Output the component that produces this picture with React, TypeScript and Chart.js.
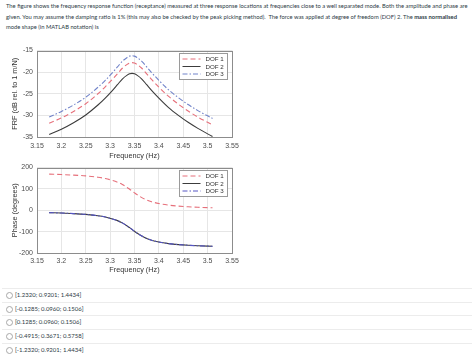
import React, { useEffect, useRef } from "react";
import { Chart, registerables } from "chart.js";

Chart.register(...registerables);

// ---------- data ----------
const questionLine1 =
  "The figure shows the frequency response function (receptance) measured at three response locations at frequencies close to a well separated mode. Both the amplitude and phase are";
const questionLine2 =
  "given. You may assume the damping ratio is 1% (this may also be checked by the peak picking method).  The force was applied at degree of freedom (DOF) 2. The ";
const questionLine2Bold = "mass normalised";
const questionLine3 = "mode shape (in MATLAB notation) is";

const answerOptions = [
  "[1.2320; 0.9201; 1.4434]",
  "[-0.1285; 0.0960; 0.1506]",
  "[0.1285; 0.0960; 0.1506]",
  "[-0.4915; 0.3671; 0.5758]",
  "[-1.2320; 0.9201; 1.4434]",
];

const seriesNames = ["DOF 1", "DOF 2", "DOF 3"];

const freq = [
  3.175, 3.2, 3.225, 3.25, 3.275, 3.29, 3.305, 3.315, 3.325, 3.335, 3.34, 3.345, 3.35,
  3.355, 3.365, 3.375, 3.385, 3.4, 3.42, 3.44, 3.46, 3.48, 3.51,
];

const magDof1 = [
  -31.8, -30.6, -29.1, -27.3, -25.0, -23.4, -21.6, -20.4, -19.1, -18.2, -17.9, -17.8, -17.9,
  -18.2, -19.1, -20.4, -21.7, -23.5, -25.6, -27.4, -29.0, -30.4, -32.2,
];
const magDof2 = [
  -34.4, -33.2, -31.7, -29.9, -27.6, -26.0, -24.2, -22.9, -21.6, -20.7, -20.4, -20.3, -20.4,
  -20.7, -21.6, -22.9, -24.2, -26.0, -28.2, -30.0, -31.6, -33.0, -34.9,
];
const magDof3 = [
  -30.4, -29.1, -27.6, -25.8, -23.5, -21.9, -20.1, -18.8, -17.5, -16.6, -16.3, -16.2, -16.3,
  -16.6, -17.5, -18.8, -20.1, -21.9, -24.1, -25.9, -27.5, -28.9, -30.7,
];

const phaseDof1 = [
  169, 167, 164.4, 160.6, 154.5, 148.5, 139.5, 131.5, 120.9, 106.6, 98.5, 90, 81.5,
  73.4, 59.1, 48.1, 39.9, 31.3, 24, 19.4, 16.2, 13.9, 11.5,
];
const phaseDof2 = [
  -11, -13, -15.6, -19.4, -25.5, -31.5, -40.5, -48.5, -59.1, -73.4, -81.5, -90, -98.5,
  -106.6, -120.9, -131.9, -140.1, -148.7, -156, -160.6, -163.8, -166.1, -168.5,
];
const phaseDof3 = [
  -11, -13, -15.6, -19.4, -25.5, -31.5, -40.5, -48.5, -59.1, -73.4, -81.5, -90, -98.5,
  -106.6, -120.9, -131.9, -140.1, -148.7, -156, -160.6, -163.8, -166.1, -168.5,
];

const xTicks = [3.15, 3.2, 3.25, 3.3, 3.35, 3.4, 3.45, 3.5, 3.55];
const xTickLabels = ["3.15", "3.2", "3.25", "3.3", "3.35", "3.4", "3.45", "3.5", "3.55"];
const magTicks = [-35, -30, -25, -20, -15];
const phaseTicks = [-200, -100, 0, 100, 200];

// ---------- styling ----------
const FONT = "'Liberation Sans', Arial, sans-serif";
const TICK_COLOR = "#4d4d4d";
const GRID_COLOR = "#e6e6e6";
const BOX_COLOR = "#8c8c8c";

const boxLegendPlugin = {
  id: "boxLegend",
  afterDatasetsDraw(chart: any) {
    const { ctx, chartArea } = chart;
    ctx.save();
    ctx.strokeStyle = BOX_COLOR;
    ctx.lineWidth = 1;
    ctx.setLineDash([]);
    ctx.strokeRect(
      Math.round(chartArea.left) + 0.5,
      Math.round(chartArea.top) + 0.5,
      Math.round(chartArea.right) - Math.round(chartArea.left),
      Math.round(chartArea.bottom) - Math.round(chartArea.top)
    );
    const w = 48;
    const h = 26;
    const bx = Math.round(chartArea.right - 5 - w) + 0.5;
    const by = Math.round(chartArea.top + 2.5) + 0.5;
    ctx.fillStyle = "#ffffff";
    ctx.fillRect(bx, by, w, h);
    ctx.strokeStyle = "#9a9a9a";
    ctx.strokeRect(bx, by, w, h);
    ctx.font = `6.2px ${FONT}`;
    ctx.textBaseline = "middle";
    ctx.textAlign = "left";
    chart.data.datasets.forEach((ds: any, i: number) => {
      const y = by + 5.5 + i * 7.5;
      ctx.strokeStyle = ds.borderColor;
      ctx.lineWidth = 1;
      ctx.setLineDash(ds.borderDash || []);
      ctx.beginPath();
      ctx.moveTo(bx + 3, y);
      ctx.lineTo(bx + 21, y);
      ctx.stroke();
      ctx.setLineDash([]);
      ctx.fillStyle = "#333333";
      ctx.fillText(ds.label, bx + 26, y + 0.5);
    });
    ctx.restore();
  },
};

type ChartSpec = {
  series: number[][];
  colors: string[];
  yTicks: number[];
  yTitle: string;
  padTop: number;
  xAxisH: number;
  xTickPad: number;
  xTitlePadBottom: number;
};

const dashes = [[5, 3], [], [5, 2, 1.5, 2]];

function buildConfig(spec: ChartSpec): any {
  const datasets = spec.series.map((vals, i) => ({
    label: seriesNames[i],
    data: freq.map((f, k) => ({ x: f, y: vals[k] })),
    borderColor: spec.colors[i],
    borderDash: dashes[i],
    borderWidth: 1.1,
    pointRadius: 0,
    fill: false,
    cubicInterpolationMode: "monotone",
    order: 2 - i,
  }));
  const tickFont = { family: FONT, size: 7 };
  const titleFont = { family: FONT, size: 7.3 };
  return {
    type: "line",
    data: { datasets },
    plugins: [boxLegendPlugin],
    options: {
      responsive: false,
      animation: false,
      events: [],
      layout: { padding: { left: 0, right: 18, top: spec.padTop, bottom: 0 } },
      plugins: { legend: { display: false }, tooltip: { enabled: false } },
      scales: {
        x: {
          type: "linear",
          min: xTicks[0],
          max: xTicks[xTicks.length - 1],
          afterBuildTicks: (s: any) => {
            s.ticks = xTicks.map((v) => ({ value: v }));
          },
          afterFit: (s: any) => {
            s.height = spec.xAxisH;
          },
          grid: { color: GRID_COLOR, drawTicks: false, lineWidth: 1 },
          border: { display: false },
          ticks: {
            padding: spec.xTickPad,
            color: TICK_COLOR,
            font: tickFont,
            maxRotation: 0,
            autoSkip: false,
            callback: (_v: any, i: number) => xTickLabels[i],
          },
          title: {
            display: true,
            text: "Frequency (Hz)",
            color: "#333333",
            font: titleFont,
            padding: { top: 0, bottom: spec.xTitlePadBottom },
          },
        },
        y: {
          type: "linear",
          min: spec.yTicks[0],
          max: spec.yTicks[spec.yTicks.length - 1],
          afterBuildTicks: (s: any) => {
            s.ticks = spec.yTicks.map((v) => ({ value: v }));
          },
          afterFit: (s: any) => {
            s.width = 37;
          },
          grid: { color: GRID_COLOR, drawTicks: false, lineWidth: 1 },
          border: { display: false },
          ticks: {
            padding: 4,
            color: TICK_COLOR,
            font: tickFont,
            autoSkip: false,
            callback: (v: any) => String(v),
          },
          title: {
            display: true,
            text: spec.yTitle,
            color: "#333333",
            font: titleFont,
            padding: { top: 10.5, bottom: 0 },
          },
        },
      },
    },
  };
}

function ChartCanvas(props: { spec: ChartSpec; top: number; height: number }) {
  const ref = useRef<HTMLCanvasElement | null>(null);
  useEffect(() => {
    if (!ref.current) return;
    const chart = new Chart(ref.current, buildConfig(props.spec));
    return () => chart.destroy();
  }, []);
  return (
    <canvas
      ref={ref}
      width={250}
      height={props.height}
      style={{
        position: "absolute",
        left: 0,
        top: props.top,
        width: 250,
        height: props.height,
      }}
    />
  );
}

const magSpec: ChartSpec = {
  series: [magDof1, magDof2, magDof3],
  colors: ["#e66f7a", "#3c3c3c", "#7183c9"],
  yTicks: magTicks,
  yTitle: "FRF (dB rel. to 1 m/N)",
  padTop: 14.5,
  xAxisH: 25,
  xTickPad: 5,
  xTitlePadBottom: 1.6,
};

const phaseSpec: ChartSpec = {
  series: [phaseDof1, phaseDof2, phaseDof3],
  colors: ["#e66f7a", "#3c3c3c", "#5656c4"],
  yTicks: phaseTicks,
  yTitle: "Phase (degrees)",
  padTop: 12.5,
  xAxisH: 27,
  xTickPad: 4,
  xTitlePadBottom: 5.6,
};

export default function App() {
  const textStyle: React.CSSProperties = {
    position: "absolute",
    left: 6,
    fontFamily: "Lato, 'Open Sans', sans-serif",
    fontSize: 5.8,
    lineHeight: "10px",
    color: "#2d3b45",
    whiteSpace: "pre",
  };
  return (
    <div
      style={{
        position: "absolute",
        left: 0,
        top: 0,
        width: 474,
        height: 354,
        background: "#ffffff",
        overflow: "hidden",
      }}
    >
      <div style={{ ...textStyle, top: 1 }}>{questionLine1}</div>
      <div style={{ ...textStyle, top: 11.5 }}>
        {questionLine2}
        <b>{questionLine2Bold}</b>
      </div>
      <div style={{ ...textStyle, top: 22 }}>{questionLine3}</div>

      <ChartCanvas spec={magSpec} top={36} height={126} />
      <ChartCanvas spec={phaseSpec} top={155} height={125} />

      {answerOptions.map((opt, i) => (
        <div key={i}>
          <div
            style={{
              position: "absolute",
              left: 2,
              width: 470,
              top: 288 + i * 13.7,
              height: 1,
              background: "#ececec",
            }}
          />
          <div
            style={{
              position: "absolute",
              left: 5.5,
              top: 295 + i * 13.7 - 3,
              width: 5,
              height: 5,
              borderRadius: "50%",
              border: "0.8px solid #a8a8a8",
              boxSizing: "content-box",
            }}
          />
          <div
            style={{
              position: "absolute",
              left: 15,
              top: 295 + i * 13.7 - 5,
              fontFamily: "Lato, 'Open Sans', sans-serif",
              fontSize: 6,
              lineHeight: "10px",
              color: "#2d3b45",
              whiteSpace: "pre",
            }}
          >
            {opt}
          </div>
        </div>
      ))}
    </div>
  );
}
